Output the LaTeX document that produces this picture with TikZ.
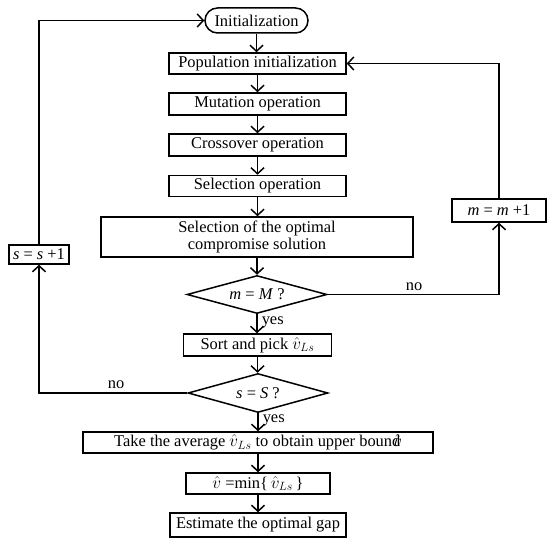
\documentclass[tikz,border=0pt]{standalone}
\usepackage{fontspec}
\setmainfont{Liberation Serif}
\usetikzlibrary{shapes.geometric,arrows.meta}
\begin{document}
\begin{tikzpicture}[x=1bp,y=-1bp,
  every node/.style={font=\fontsize{16.5}{19.5}\selectfont},
  box/.style={draw,line width=1.5bp,inner sep=0pt,align=center},
  dia/.style={draw,line width=1.5bp,diamond,inner sep=0pt,aspect=3.6},
  conn/.style={line width=1.5bp,-{Straight Barb[length=6bp,width=13bp,line width=1.5bp]}},
  lab/.style={inner sep=0pt}]
\useasboundingbox (0,0) rectangle (550,545);
\node[box,rounded corners=12.5bp,minimum width=103bp,minimum height=25bp] (init) at (256.5,20.5) {Initialization};
\node[box,minimum width=177bp,minimum height=21bp] (pop) at (257.5,63.5) {Population initialization};
\node[box,minimum width=177bp,minimum height=22bp] (mut) at (257.5,104) {Mutation operation};
\node[box,minimum width=177bp,minimum height=22bp] (cross) at (257.5,145) {Crossover operation};
\node[box,minimum width=177bp,minimum height=21bp] (selop) at (257.5,186) {Selection operation};
\node[box,minimum width=312bp,minimum height=40bp] (selopt) at (257,237) {Selection of the optimal\\[-2bp]compromise solution};
\node[dia,minimum width=140bp,minimum height=38bp] (d1) at (257,294.5) {\textit{m} = \textit{M} ?};
\node[box,minimum width=148bp,minimum height=22bp] (sort) at (257.5,345) {Sort and pick $\hat{v}_{Ls}$};
\node[dia,minimum width=140bp,minimum height=39bp] (d2) at (258,393) {\textit{s} = \textit{S} ?};
\node[box,minimum width=350bp,minimum height=21bp] (take) at (258,442.5) {Take the average $\hat{v}_{Ls}$ to obtain upper bound\kern-0.45em$\hat{v}$};
\node[box,minimum width=144bp,minimum height=21bp] (vmin) at (258,483.5) {$\hat{v}$ =min\{\,$\hat{v}_{Ls}$\,\}};
\node[box,minimum width=176bp,minimum height=24bp] (est) at (258,525) {Estimate the optimal gap};
\node[box,minimum width=60bp,minimum height=19bp] (ss) at (39,254.5) {\textit{s} = \textit{s} +1};
\node[box,minimum width=94bp,minimum height=23bp] (mm) at (499,210.5) {\textit{m} = \textit{m} +1};
\draw[conn] (init) -- (init|-pop.north);
\draw[conn] (pop) -- (pop|-mut.north);
\draw[conn] (mut) -- (mut|-cross.north);
\draw[conn] (cross) -- (cross|-selop.north);
\draw[conn] (selop) -- (selop|-selopt.north);
\draw[conn] (selopt) -- (d1.north);
\draw[conn] (d1.south) -- (d1|-sort.north) node[lab,pos=0.45,right=4bp] {yes};
\draw[conn] (sort) -- (sort|-d2.north);
\draw[conn] (d2.south) -- (d2|-take.north) node[lab,pos=0.4,right=4bp] {yes};
\draw[conn] (take) -- (take|-vmin.north);
\draw[conn] (vmin) -- (vmin|-est.north);
\draw[conn] (d1.east) -| (mm.south);
\node[lab] (no1) at (414,287) {no};
\draw[conn] (mm.north) |- (pop.east);
\draw[conn] (d2.west) -| (ss.south);
\node[lab] (no2) at (116,385) {no};
\draw[conn] (ss.north) |- (init.west);
\end{tikzpicture}
\end{document}
